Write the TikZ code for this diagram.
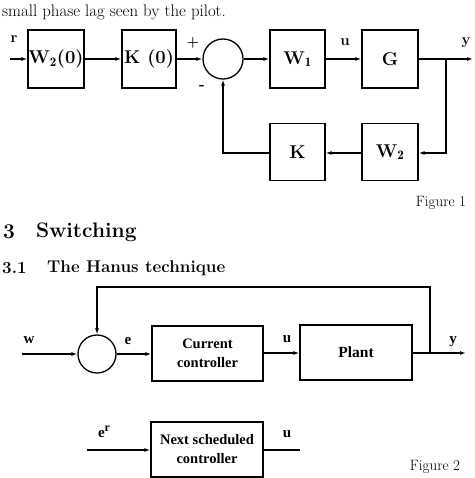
\documentclass[tikz,border=0pt]{standalone}
\usepackage{fontspec}
\newfontfamily\timesf{Liberation Serif}
\usetikzlibrary{arrows.meta}
\begin{document}
\begin{tikzpicture}[x=1pt,y=-1pt,
  blk/.style={draw,line width=1.3pt,rectangle,inner sep=0pt,font=\fontsize{18.5}{22}\selectfont\bfseries},
  tbk/.style={draw,line width=1.3pt,rectangle,inner sep=0pt,align=center,font=\timesf\fontsize{14.5}{19}\selectfont\bfseries},
  sumc/.style={draw,line width=1.3pt,circle,inner sep=0pt},
  lab/.style={inner sep=0pt,font=\fontsize{15}{16}\selectfont\bfseries},
  tlab/.style={inner sep=0pt,font=\timesf\fontsize{15}{16}\selectfont\bfseries},
  wire/.style={line width=1.3pt},
  arr/.style={line width=1.3pt,-{Latex[length=6pt,width=4pt]}},
  figcap/.style={inner sep=0pt,font=\fontsize{15}{16}\selectfont}
]
\useasboundingbox (0,0) rectangle (474,478);
\clip (0,0) rectangle (474,478);

% top text
\node[inner sep=0pt,anchor=west,font=\fontsize{16.8}{18}\selectfont] (txt) at (2,12) {small phase lag seen by the pilot.};

% ---------- Figure 1 ----------
\coordinate (in1) at (10,59);
\node[blk,minimum width=56pt,minimum height=58pt] (w20) at (56,59) {W$_{\mathbf 2}$(0)};
\node[blk,minimum width=54pt,minimum height=58pt] (k0) at (149,59) {K (0)};
\node[sumc,minimum size=40pt] (s1) at (223,59) {};
\node[blk,minimum width=55pt,minimum height=58pt] (w1) at (297.5,59) {W$_{\mathbf 1}$};
\node[blk,minimum width=56pt,minimum height=58pt] (g) at (390,59) {G};
\node[blk,minimum width=56pt,minimum height=57pt] (w2) at (390,152) {W$_{\mathbf 2}$};
\node[blk,minimum width=55pt,minimum height=57pt] (k) at (297.5,152) {K};
\coordinate (br1) at (446,59);
\coordinate (out1) at (473,59);
\coordinate (br1d) at (446,153);
\coordinate (fb1) at (223,153);

\draw[arr] (in1) -- (w20.west);
\draw[arr] (w20.east) -- (k0.west);
\draw[arr] (k0.east) -- (s1.west);
\draw[arr] (s1.east) -- (w1.west);
\draw[arr] (w1.east) -- (g.west);
\draw[arr] (g.east) -- (out1);
\draw[arr] (br1) -- (br1d) -- (br1d -| w2.east);
\draw[arr] (w2.west |- br1d) -- (k.east |- br1d);
\draw[arr] (k.west |- br1d) -- (fb1) -- (s1.south);

\node[lab] (lr) at (14,39) {r};
\node[lab,font=\fontsize{14}{14}\selectfont\boldmath] (lp) at (193,43) {$+$};
\node[lab] (lm) at (202,87) {-};
\node[lab] (lu) at (345,42) {u};
\node[lab] (ly) at (466,43) {y};
\node[figcap] (f1) at (441,203) {Figure 1};

% ---------- headings ----------
\node[inner sep=0pt,anchor=west,font=\fontsize{21}{24}\selectfont\bfseries] (h3n) at (3,232) {3};
\node[inner sep=0pt,anchor=west,font=\fontsize{21}{24}\selectfont\bfseries] (h3) at (36,232) {Switching};
\node[inner sep=0pt,anchor=west,font=\fontsize{17}{19}\selectfont\bfseries] (h31n) at (2,268) {3.1};
\node[inner sep=0pt,anchor=west,font=\fontsize{17}{19}\selectfont\bfseries] (h31) at (47,268) {The Hanus technique};

% ---------- Figure 2 ----------
\coordinate (in2) at (22,354);
\node[sumc,minimum size=38pt] (s2) at (97,354) {};
\node[tbk,minimum width=111pt,minimum height=55pt] (cur) at (207.5,353.5) {Current\\controller};
\node[tbk,minimum width=112pt,minimum height=55pt,font=\timesf\fontsize{15.5}{19}\selectfont\bfseries] (pl) at (356,352.5) {Plant};
\coordinate (br2) at (430,353);
\coordinate (out2) at (466,353);
\coordinate (tr) at (430,287);
\coordinate (tl) at (97,287);

\draw[arr] (in2) -- (s2.west);
\draw[arr] (s2.east) -- (cur.west |- s2.east);
\draw[arr] (cur.east |- br2) -- (pl.west |- br2);
\draw[arr] (pl.east |- br2) -- (out2);
\draw[arr] (br2) -- (tr) -- (tl) -- (s2.north);

\node[tbk,minimum width=112pt,minimum height=55pt] (nx) at (207,449.5) {Next scheduled\\controller};
\coordinate (in3) at (87,450);
\coordinate (out3) at (300,450);
\draw[arr] (in3) -- (nx.west |- in3);
\draw[wire] (nx.east |- in3) -- (out3);

\node[tlab] (lw) at (29,340) {w};
\node[tlab] (le) at (128,341) {e};
\node[tlab] (lu2) at (287,339) {u};
\node[tlab] (ly2) at (453,342) {y};
\node[tlab] (ler) at (104,432) {e\raisebox{6pt}{\fontsize{12}{12}\selectfont r}};
\node[tlab] (lu3) at (287,434) {u};
\node[figcap] (f2) at (435,467) {Figure 2};
\end{tikzpicture}
\end{document}
